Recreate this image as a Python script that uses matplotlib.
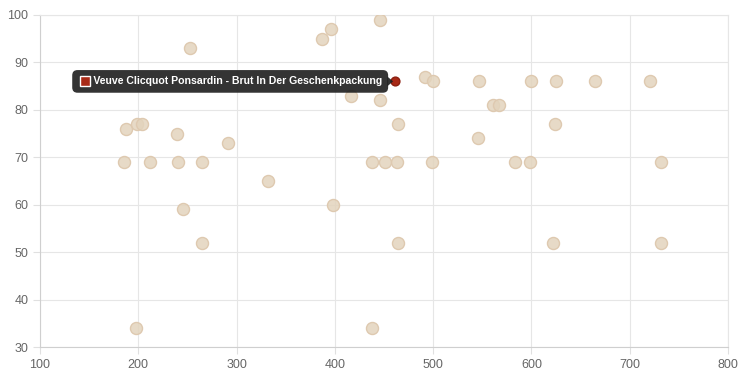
import matplotlib
matplotlib.use("Agg")
import matplotlib.pyplot as plt
from matplotlib.patches import Polygon, Rectangle

# data
price = [185, 188, 199, 204, 212, 239, 240, 253, 246, 265, 265, 291, 198, 332,
         387, 396, 398, 416, 446, 446, 438, 451, 463, 464, 464, 438, 492, 500,
         499, 547, 546, 561, 567, 583, 599, 600, 625, 624, 622, 665, 721, 732, 732]
score = [69, 76, 77, 77, 69, 75, 69, 93, 59, 69, 52, 73, 34, 65,
         95, 97, 60, 83, 99, 82, 69, 69, 69, 77, 52, 34, 87, 86,
         69, 86, 74, 81, 81, 69, 69, 86, 86, 77, 52, 86, 86, 69, 52]
hl_price = [461]
hl_score = [86]
hl_label = "Veuve Clicquot Ponsardin - Brut In Der Geschenkpackung"

plt.rcParams['font.family'] = ['Liberation Sans', 'DejaVu Sans']

fig = plt.figure(figsize=(7.5, 3.8), dpi=100)
ax = fig.add_axes([40 / 750, 1 - 347 / 380, 688 / 750, 332 / 380])

ax.scatter(price, score, s=75, color=(0.89, 0.83, 0.74, 0.85),
           edgecolor=(0.87, 0.79, 0.69), linewidth=1, zorder=3)
ax.scatter(hl_price, hl_score, s=40, color='#a82a17', edgecolor='#8c2010',
           linewidth=1, zorder=4)

ax.set_xlim(100, 800)
ax.set_ylim(30, 100)
ax.set_xticks(range(100, 801, 100))
ax.set_yticks(range(30, 101, 10))
ax.grid(True, color='#e6e6e6', linewidth=0.8)
ax.set_axisbelow(True)
for side in ['top', 'right']:
    ax.spines[side].set_color('#e6e6e6')
for side in ['left', 'bottom']:
    ax.spines[side].set_color('#cfcfcf')
ax.tick_params(colors='#e0e0e0', labelcolor='#666666', labelsize=9, length=5)

# tooltip (leading spaces leave room for the colour square)
tip = ax.annotate("     " + hl_label, xy=(hl_price[0], hl_score[0]), xytext=(-13, 0),
                  textcoords='offset pixels', ha='right', va='center',
                  fontsize=7.6, fontweight='bold', color='white', zorder=6,
                  bbox=dict(boxstyle='round,pad=0.6,rounding_size=0.5',
                            fc='#222222', ec='none', alpha=0.92))
fig.canvas.draw()
box = tip.get_bbox_patch().get_window_extent()
txt = tip.get_window_extent()

cy = (box.y0 + box.y1) / 2
fig.patches.append(Polygon([[box.x1 - 1, cy + 5], [box.x1 + 5, cy], [box.x1 - 1, cy - 5]],
                           closed=True, fc='#222222', ec='none', alpha=0.92,
                           transform=None, zorder=6))
fig.patches.append(Rectangle((txt.x0 + 1, cy - 5), 10, 10, fc='#a82a17',
                             ec='white', linewidth=1, transform=None, zorder=7))

fig.savefig("out.png", dpi=100)
